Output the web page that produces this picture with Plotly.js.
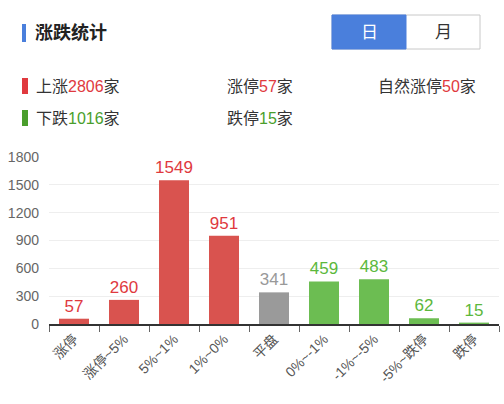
<!DOCTYPE html>
<html>
<head>
<meta charset="utf-8">
<script src="https://cdn.plot.ly/plotly-3.0.1.min.js"></script>
<style>
  body { margin: 0; background: #fff; }
  #chart { width: 504px; height: 404px; }
</style>
</head>
<body>
<div id="chart"></div>
<script>
var categories = ['涨停', '涨停~5%', '5%~1%', '1%~0%', '平盘', '0%~-1%', '-1%~-5%', '-5%~跌停', '跌停'];
var counts = [57, 260, 1549, 951, 341, 459, 483, 62, 15];
var barColors = ['#d9534f', '#d9534f', '#d9534f', '#d9534f', '#9a9a9a', '#6cbd52', '#6cbd52', '#6cbd52', '#6cbd52'];
var labelColors = ['#e0393e', '#e0393e', '#e0393e', '#e0393e', '#999999', '#5cb83c', '#5cb83c', '#5cb83c', '#5cb83c'];
var yTicks = [0, 300, 600, 900, 1200, 1500, 1800];

var FONT = 'Liberation Sans, Noto Sans CJK SC, sans-serif';
var RED = '#e0393e', GREEN = '#4a9e2c', TXT = '#333';

// plot area in pixels: x 49..499, y 157..324
function px(x) { return (x - 49) / 450; }
function py(y) { return (324 - y) / 167; }

var bars = {
  type: 'bar',
  x: categories,
  y: counts,
  marker: { color: barColors },
  text: counts.map(String),
  textposition: 'outside',
  constraintext: 'none',
  cliponaxis: false,
  textfont: { size: 17, color: labelColors, family: FONT },
  hoverinfo: 'none'
};

function stat(x, y, parts) {
  var s = parts.map(function(p) {
    return '<span style="color:' + p[1] + '">' + p[0] + '</span>';
  }).join('');
  return { xref: 'paper', yref: 'paper', x: px(x), y: py(y), xanchor: 'left', yanchor: 'middle',
    text: s, showarrow: false, font: { size: 16, family: FONT, color: TXT } };
}

var layout = {
  width: 504,
  height: 404,
  margin: { l: 49, r: 5, t: 157, b: 80 },
  paper_bgcolor: '#fff',
  plot_bgcolor: '#fff',
  showlegend: false,
  bargap: 0.4,
  font: { family: FONT },
  xaxis: {
    type: 'category',
    tickangle: -45,
    tickson: 'boundaries',
    ticks: 'outside',
    ticklen: 6,
    tickcolor: '#666',
    showline: true,
    linecolor: '#333',
    linewidth: 1.5,
    tickfont: { size: 14, color: '#555', family: FONT },
    showgrid: false,
    fixedrange: true
  },
  yaxis: {
    range: [0, 1800],
    tickvals: yTicks,
    showgrid: true,
    gridcolor: '#eeeeee',
    zeroline: false,
    showline: false,
    ticks: '',
    ticklabelstandoff: 9,
    tickfont: { size: 14, color: '#666', family: FONT },
    fixedrange: true
  },
  shapes: [
    // title marker
    { type: 'rect', xref: 'paper', yref: 'paper', x0: px(22), x1: px(26), y0: py(42), y1: py(24),
      fillcolor: '#4a7fdc', line: { width: 0 } },
    // toggle buttons
    { type: 'rect', xref: 'paper', yref: 'paper', x0: px(332), x1: px(480), y0: py(49), y1: py(15),
      fillcolor: '#fff', line: { color: '#c8c8c8', width: 1 } },
    { type: 'rect', xref: 'paper', yref: 'paper', x0: px(332), x1: px(406), y0: py(49), y1: py(15),
      fillcolor: '#4a7fdc', line: { color: '#4a7fdc', width: 1 } },
    // legend markers
    { type: 'rect', xref: 'paper', yref: 'paper', x0: px(22), x1: px(28), y0: py(94), y1: py(78),
      fillcolor: '#e0393e', line: { width: 0 } },
    { type: 'rect', xref: 'paper', yref: 'paper', x0: px(22), x1: px(28), y0: py(126), y1: py(110),
      fillcolor: '#4a9e2c', line: { width: 0 } }
  ],
  annotations: [
    { xref: 'paper', yref: 'paper', x: px(33), y: py(33), xanchor: 'left', yanchor: 'middle',
      text: '<b>涨跌统计</b>', showarrow: false, font: { size: 18, color: '#222', family: FONT } },
    { xref: 'paper', yref: 'paper', x: px(369), y: py(32), xanchor: 'center', yanchor: 'middle',
      text: '日', showarrow: false, font: { size: 17, color: '#fff', family: FONT } },
    { xref: 'paper', yref: 'paper', x: px(443), y: py(32), xanchor: 'center', yanchor: 'middle',
      text: '月', showarrow: false, font: { size: 17, color: '#333', family: FONT } },
    stat(34, 86, [['上涨', TXT], ['2806', RED], ['家', TXT]]),
    stat(225, 86, [['涨停', TXT], ['57', RED], ['家', TXT]]),
    stat(376, 86, [['自然涨停', TXT], ['50', RED], ['家', TXT]]),
    stat(34, 118, [['下跌', TXT], ['1016', GREEN], ['家', TXT]]),
    stat(225, 118, [['跌停', TXT], ['15', GREEN], ['家', TXT]])
  ]
};

Plotly.newPlot('chart', [bars], layout, { displayModeBar: false, staticPlot: true });
</script>
</body>
</html>
